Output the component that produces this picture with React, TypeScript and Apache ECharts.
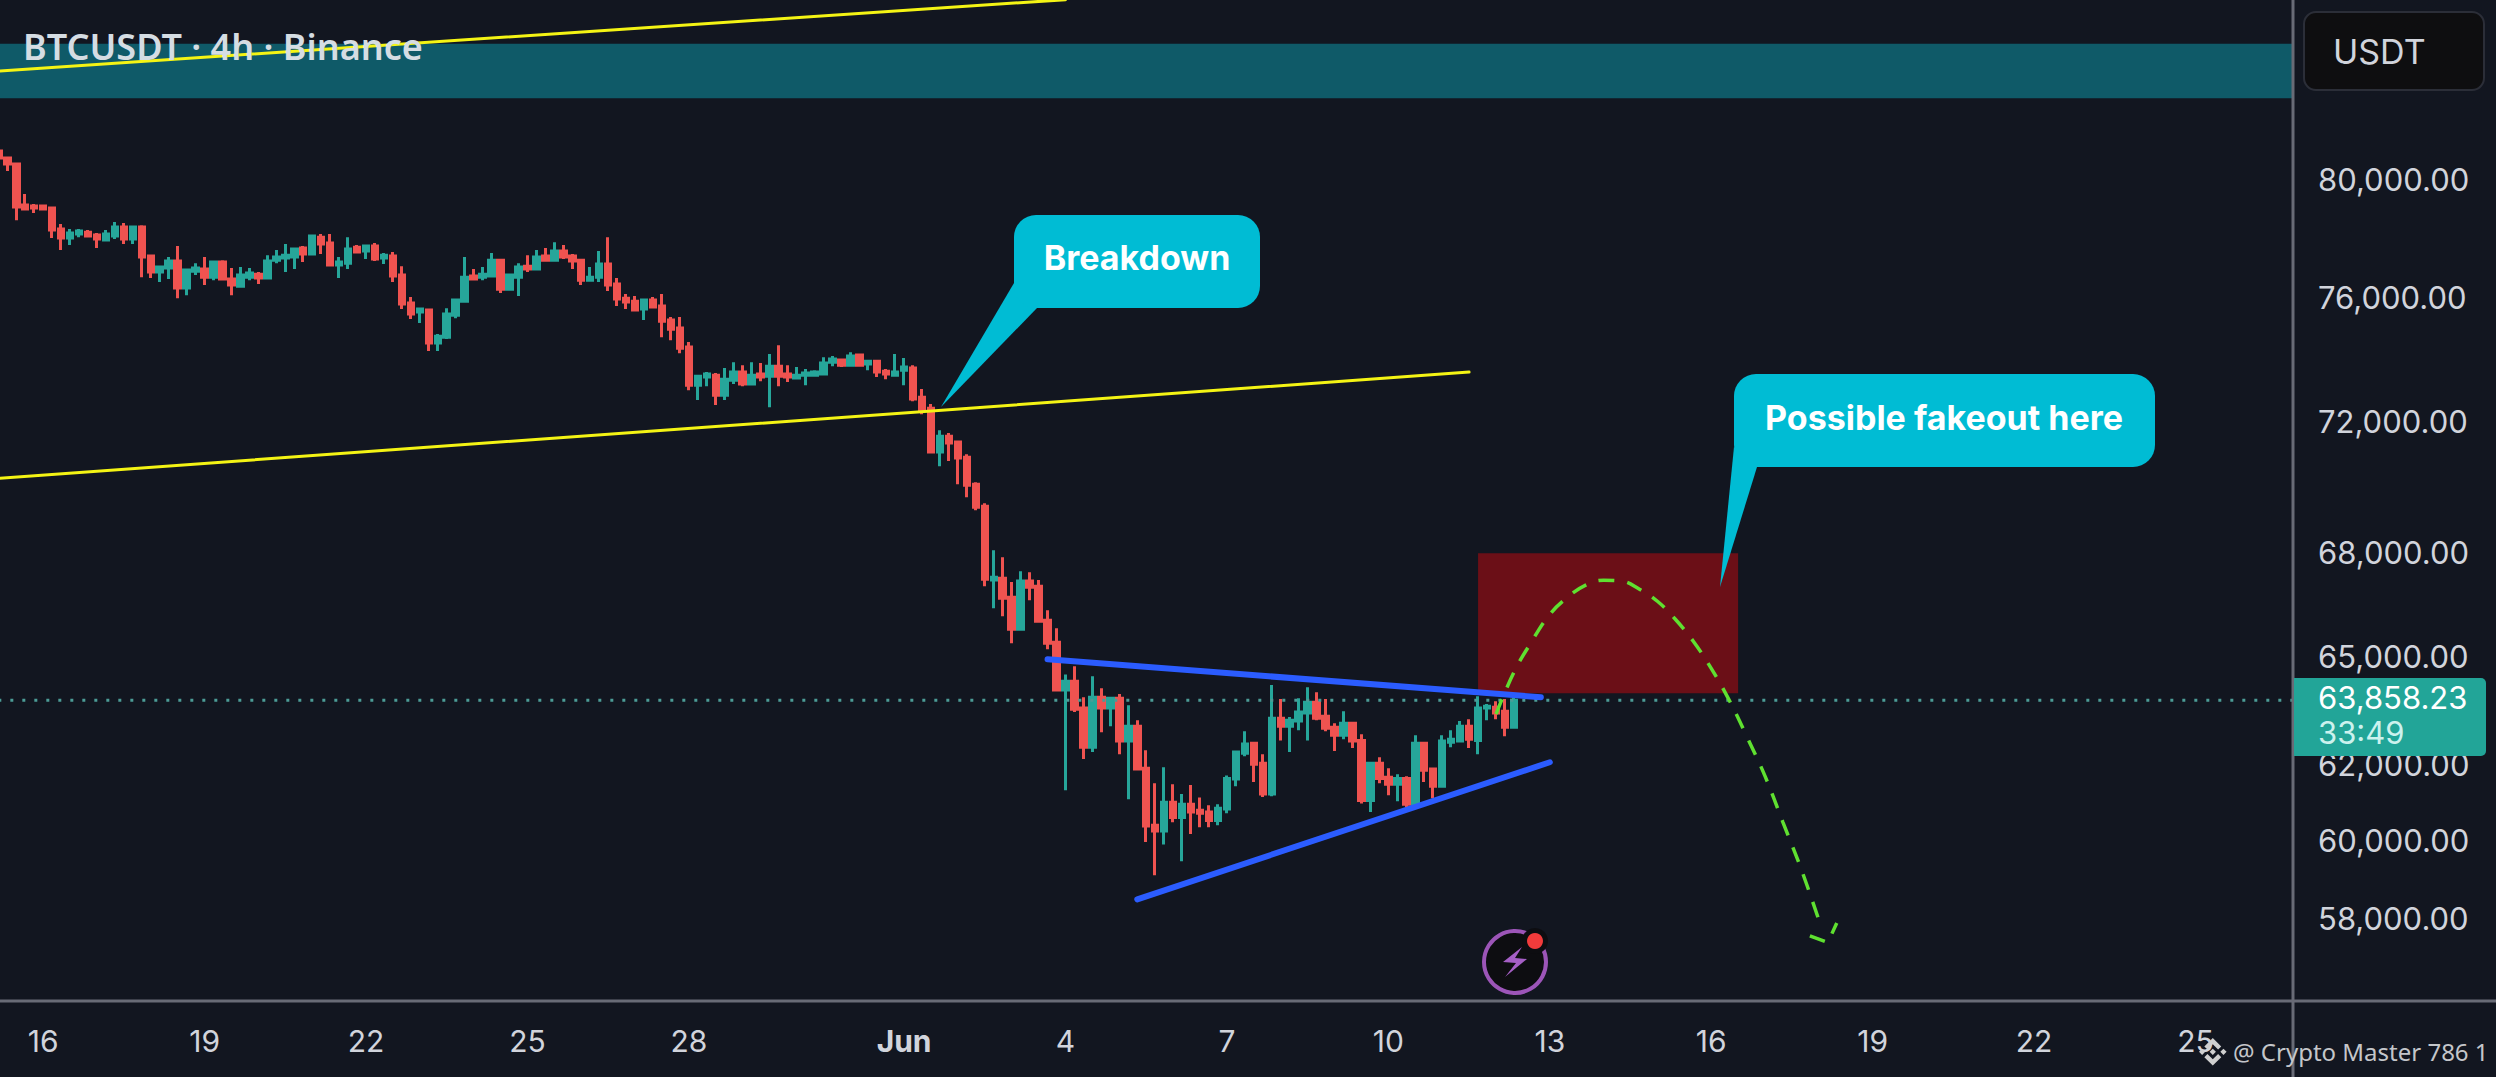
import React, { useEffect, useRef } from "react";
import * as echarts from "echarts";

const BG = "#121620";
const UP = "#26a69a";
const DOWN = "#ef5350";
const AXIS_TEXT = "#d1d4dc";
const DIVIDER = "#686b76";
const CYAN = "#00bcd4";
const FONT = "Inter";

const axisTopPrice = 86633;
const axisBottomPrice = 56040;
const priceTicks = [80000, 76000, 72000, 68000, 65000, 62000, 60000, 58000];
const lastPrice = 63858.23;

const slotCount = 257;
const xTickSlots = [5, 23, 41, 59, 77, 101, 119, 137, 155, 173, 191, 209, 227, 245];
const xTickLabels = ["16", "19", "22", "25", "28", "Jun", "4", "7", "10", "13", "16", "19", "22", "25"];

// open, close, low, high
const candleRows = [
  [81120,80870,80830,81120],[80870,80660,80410,80870],[80660,79160,78710,80690],[79230,79090,79090,79610],
  [79200,79130,78960,79270],[79200,79090,79060,79230],[79130,78370,78100,79160],[78410,78100,77690,78580],
  [78100,78270,77860,78410],[78240,78340,78130,78410],[78300,78170,78170,78370],[78200,78070,77760,78270],
  [78030,78240,78030,78370],[78170,78480,78070,78650],[78480,78070,77900,78610],[78070,78480,77900,78510],
  [78480,77460,76780,78540],[77490,76950,76750,77520],[76950,77120,76620,77120],[77090,77320,76720,77460],
  [77320,76420,76080,77830],[76420,77020,76180,77050],[76980,77090,76850,77250],[77050,76780,76520,77460],
  [76780,77290,76680,77320],[77290,76720,76680,77350],[76720,76520,76180,77090],[76480,76850,76450,77120],
  [76780,76920,76680,77090],[76880,76750,76550,76950],[76750,77320,76750,77520],[77350,77460,77250,77690],
  [77420,77520,76950,77900],[77460,77730,77050,77760],[77760,77560,77290,77830],[77560,78170,77560,78200],
  [78130,77900,77560,78240],[77930,77190,77190,78240],[77190,77290,76750,77460],[77250,77730,77050,78130],
  [77790,77630,77590,77860],[77660,77830,77390,77860],[77830,77390,77320,77930],[77420,77520,77220,77590],
  [77490,76820,76620,77630],[76850,75890,75720,77150],[75920,75560,75390,76120],[75620,75720,75260,75720],
  [75690,74610,74350,75690],[74610,74830,74350,74900],[74800,75560,74740,75750],[75520,76020,75420,76050],
  [75980,76780,75980,77460],[76820,76720,76680,77050],[76780,76880,76680,77120],[76820,77350,76780,77590],
  [77350,76380,76250,77350],[76380,76850,76380,76850],[76780,77120,76150,77250],[77150,77050,76950,77520],
  [77050,77460,77050,77690],[77490,77350,77320,77760],[77350,77660,77320,77960],[77660,77460,77390,77860],
  [77490,77320,77050,77560],[77350,76680,76520,77390],[76680,76780,76650,77120],[76780,77220,76620,77660],
  [77220,76520,76320,78130],[76550,76050,75820,76750],[76080,75950,75720,76220],[75980,75690,75650,76150],
  [75720,76020,75360,76020],[76020,75790,75750,76120],[75820,75320,74800,76220],[75360,75060,74700,75460],
  [75100,74440,74280,75460],[74480,73250,73090,74640],[73250,73540,72780,73540],[73510,73610,73220,73670],
  [73570,72930,72620,73640],[72930,73440,72780,73800],[73410,73670,73290,73990],[73670,73290,73220,73890],
  [73290,73570,73250,73990],[73610,73510,73380,73960],[73540,73860,72550,74250],[73860,73540,73220,74540],
  [73610,73510,73350,73890],[73480,73570,73440,73830],[73570,73640,73250,73770],[73570,73670,73540,73730],
  [73610,73960,73610,74150],[73990,74090,73860,74190],[74060,73890,73830,74090],[73890,74190,73890,74310],
  [74220,73890,73860,74250],[73930,74020,73730,74060],[74020,73670,73510,74060],[73700,73610,73440,73770],
  [73570,73670,73540,74250],[73730,73830,73250,74120],[73800,72810,72740,73890],[72870,72460,72330,73130],
  [72520,71150,71150,72650],[71150,71640,70710,71830],[71640,71430,70870,71740],[71460,70960,70160,71460],
  [70990,70130,69760,71080],[70160,69460,69370,70220],[69490,67310,67110,69580],[67290,67370,66470,68170],
  [67340,66760,66240,67960],[66790,65860,65460,67230],[65860,67260,65860,67550],[67260,67080,66700,67520],
  [67110,66090,66090,67290],[66120,65460,65290,66410],[65490,64140,64140,65890],[64140,64390,61400,64580],
  [64390,63610,63530,64810],[63640,62560,62240,63940],[62560,63940,62430,64530],[63940,63640,62970,64190],
  [63640,63910,63140,63910],[63910,62730,62370,64030],[62730,63140,61160,63720],[63140,61970,61970,63300],
  [61990,60450,60030,62480],[60470,60320,59170,61590],[60320,61080,59970,62020],[61080,60680,60550,61560],
  [60680,61030,59530,61300],[61030,60820,60240,61540],[60870,60790,60420,61210],[60820,60600,60420,61000],
  [60600,60920,60470,61030],[60900,61720,60790,61800],[61700,62430,61510,62450],[62400,62650,62320,63000],
  [62670,62100,61620,62670],[62130,61300,61220,62370],[61300,63360,61240,64280],[63360,63140,62750,63890],
  [63140,63300,62430,63390],[63280,63530,63030,63910],[63500,63800,62750,64220],[63800,63360,63300,64080],
  [63410,63080,63000,63890],[63110,62890,62460,63220],[62890,63220,62780,63550],[63220,62730,62540,63250],
  [62750,61130,61050,62920],[61130,62130,60820,62130],[62130,61720,61590,62290],[61750,61560,61270,61990],
  [61560,61720,61110,61830],[61720,61030,60950,61780],[61030,62670,61000,62890],[62670,61940,61620,62670],
  [61970,61510,61190,61990],[61510,62730,61510,62890],[62700,62780,62560,63030],[62730,63140,62730,63280],
  [63140,62780,62540,63330],[62750,63640,62370,63970],[63640,63690,63300,63750],[63660,63500,63330,63830],
  [63550,63110,62860,63890],[63110,63858.23,63110,63940],
];

const zoneBandPrices = [85000, 83000];
const resistanceZoneSlots = [165, 194];
const resistanceZonePrices = [68080, 64050];

const upperYellowSlots = [0, 119];
const upperYellowPrices = [83993, 86646];
const lowerYellowSlots = [0, 164];
const lowerYellowPrices = [70340, 73670];
const wedgeTopSlots = [117, 172];
const wedgeTopPrices = [65007, 63941];
const wedgeBottomSlots = [127, 173];
const wedgeBottomPrices = [58553, 62155];
const priceLineSlots = [0, 256];

const pathSlots = [167,169,171,173,175,177,179,181,183,185,187,189,191,193,195,197,199,201,203];
const pathPrices = [63470,64640,65520,66290,66790,67140,67285,67260,67020,66670,66150,65520,64750,63860,62840,61780,60550,59350,58030];
const arrowSlots = [202, 204, 205];
const arrowPrices = [57630, 57460, 57950];

const binancePath =
  "M16.624 13.9202l2.7175 2.7154-7.353 7.353-7.353-7.352 2.7175-2.7164 4.6355 4.6595 4.6356-4.6595zm4.6366-4.6366L24 12l-2.7154 2.7164L18.5682 12l2.6924-2.7164zm-9.272.001l2.7163 2.6914-2.7164 2.7174v-.001L9.2721 12l2.7164-2.7154zm-9.2722-.001L5.4088 12l-2.6914 2.6924L0 12l2.7164-2.7164zM11.9885.0115l7.353 7.329-2.7174 2.7154-4.6356-4.6356-4.6355 4.6595-2.7174-2.7154 7.353-7.353z";
echarts.graphic.registerShape("binanceLogo", (echarts.graphic as any).extendPath(binancePath, {}));

const ln = (p: number) => Math.log(p);
const categories: string[] = [];
for (let j = 0; j < slotCount; j++) {
  const d = new Date(Date.UTC(2024, 4, 15, 4 + 4 * j));
  categories.push(d.toISOString().slice(5, 13));
}
const pairLine = (slots: number[], prices: number[]) => slots.map((s, k) => [s, ln(prices[k])]);
const trend = (name: string, slots: number[], prices: number[], color: string, width: number, z: number) => ({
  type: "line", name, data: pairLine(slots, prices), showSymbol: false, symbol: "none", z, silent: true,
  lineStyle: { color, width, cap: "round" },
});

const callout = (
  rect: number[], tail: number[][], text: string, cx: number, cy: number,
) => [
  { type: "polygon", z: 50, silent: true, shape: { points: tail }, style: { fill: CYAN } },
  { type: "rect", z: 51, silent: true, shape: { x: rect[0], y: rect[1], width: rect[2], height: rect[3], r: 22 }, style: { fill: CYAN } },
  { type: "text", z: 52, silent: true, x: cx, y: cy, style: { text, fill: "#ffffff", font: `700 34px ${FONT}`, align: "center", verticalAlign: "middle" } },
];

function buildOption() {
  return {
    animation: false,
    backgroundColor: BG,
    tooltip: { show: false },
    title: {
      text: "BTCUSDT · 4h · Binance", left: 23, top: 28, padding: 0, z: 40,
      textStyle: { color: "#d5dde3", fontFamily: "Noto Sans", fontWeight: 600, fontSize: 36 },
    },
    grid: { left: -6.17, top: 0, width: 2304.8, height: 1000, containLabel: false, outerBoundsMode: "none" },
    xAxis: {
      type: "category", data: categories, boundaryGap: true,
      axisLine: { show: false }, axisTick: { show: false }, splitLine: { show: false },
      axisLabel: {
        show: true, margin: 26, color: AXIS_TEXT, fontFamily: FONT, fontSize: 30, hideOverlap: false,
        interval: (index: number) => xTickSlots.includes(index),
        formatter: (_: string, index: number) => {
          const t = xTickLabels[xTickSlots.indexOf(index)] ?? "";
          return t === "Jun" ? `{b|${t}}` : t;
        },
        rich: { b: { fontFamily: FONT, fontWeight: 700, fontSize: 30, color: AXIS_TEXT } },
      },
    },
    yAxis: {
      type: "value", position: "right", min: ln(axisBottomPrice), max: ln(axisTopPrice), scale: true,
      axisLine: { show: false }, axisTick: { show: false }, splitLine: { show: false },
      axisLabel: {
        show: true, margin: 19.4, color: AXIS_TEXT, fontFamily: FONT, fontSize: 31,
        verticalAlign: "bottom", lineHeight: 6,
        customValues: priceTicks.map(ln),
        formatter: (v: number) => Math.round(Math.exp(v)).toLocaleString("en-US", { minimumFractionDigits: 2 }),
      },
    },
    series: [
      {
        type: "line", name: "zones", data: [], z: 1, silent: true,
        markArea: {
          silent: true, label: { show: false },
          data: [
            [
              { yAxis: ln(zoneBandPrices[0]), itemStyle: { color: "#0f5a68", opacity: 1 } },
              { yAxis: ln(zoneBandPrices[1]) },
            ],
            [
              { xAxis: categories[resistanceZoneSlots[0]], yAxis: ln(resistanceZonePrices[0]), itemStyle: { color: "#6b0f17", opacity: 1 } },
              { xAxis: categories[resistanceZoneSlots[1]], yAxis: ln(resistanceZonePrices[1]) },
            ],
          ],
        },
      },
      {
        type: "candlestick", name: "BTCUSDT", z: 2, barWidth: 6, silent: true,
        data: candleRows.map((r) => r.map(ln)),
        itemStyle: { color: UP, color0: DOWN, borderColor: UP, borderColor0: DOWN, borderWidth: 3 },
      },
      {
        type: "line", name: "last price", z: 3, silent: true, showSymbol: false, symbol: "none",
        data: pairLine(priceLineSlots, [lastPrice, lastPrice]),
        lineStyle: { color: "#4c9c96", width: 3, type: [3, 9] },
      },
      trend("upper yellow", upperYellowSlots, upperYellowPrices, "#f4f414", 3, 3),
      trend("lower yellow", lowerYellowSlots, lowerYellowPrices, "#f4f414", 3, 3),
      trend("wedge top", wedgeTopSlots, wedgeTopPrices, "#2b5cff", 6, 4),
      trend("wedge bottom", wedgeBottomSlots, wedgeBottomPrices, "#2b5cff", 6, 4),
      {
        type: "line", name: "path", data: pairLine(pathSlots, pathPrices), smooth: 0.4, showSymbol: false, symbol: "none", z: 5, silent: true,
        lineStyle: { color: "#5fe030", width: 3.5, type: [16, 13] },
      },
      {
        type: "line", name: "arrow", data: pairLine(arrowSlots, arrowPrices), showSymbol: false, symbol: "none", z: 5, silent: true,
        lineStyle: { color: "#5fe030", width: 3.5, type: [16, 13] },
      },
    ],
    graphic: [
      { type: "rect", z: 29, silent: true, shape: { x: 2294, y: 0, width: 8, height: 1001 }, style: { fill: BG } },
      { type: "line", z: 30, silent: true, shape: { x1: 0, y1: 1001, x2: 2496, y2: 1001 }, style: { stroke: DIVIDER, lineWidth: 3 } },
      { type: "line", z: 30, silent: true, shape: { x1: 2293, y1: 0, x2: 2293, y2: 1077 }, style: { stroke: DIVIDER, lineWidth: 3 } },
      { type: "rect", z: 31, silent: true, shape: { x: 2304, y: 12, width: 180, height: 78, r: 12 }, style: { fill: "#0e0e10", stroke: "#2b2e38", lineWidth: 2 } },
      { type: "text", z: 32, silent: true, x: 2333, y: 51, style: { text: "USDT", fill: AXIS_TEXT, font: `400 34px ${FONT}`, verticalAlign: "middle" } },
      { type: "rect", z: 31, silent: true, shape: { x: 2294, y: 678, width: 192, height: 78, r: [0, 5, 5, 0] }, style: { fill: "#22a598" } },
      { type: "text", z: 32, silent: true, x: 2318, y: 697, style: { text: "63,858.23", fill: "#ffffff", font: `400 31px ${FONT}`, verticalAlign: "middle" } },
      { type: "text", z: 32, silent: true, x: 2318, y: 732, style: { text: "33:49", fill: "#ccf2ee", font: `400 31px ${FONT}`, verticalAlign: "middle" } },
      ...callout([1014, 215, 246, 93], [[1014, 283], [941, 407], [1037, 308]], "Breakdown", 1137, 257),
      ...callout([1734, 374, 421, 93], [[1734, 447], [1720, 587], [1757, 467]], "Possible fakeout here", 1944, 417),
      { type: "circle", z: 33, silent: true, shape: { cx: 1515, cy: 962, r: 31 }, style: { fill: "#0d0d11", stroke: "#9c55b8", lineWidth: 4 } },
      { type: "circle", z: 34, silent: true, shape: { cx: 1535, cy: 941, r: 13 }, style: { fill: "#0d0d11" } },
      { type: "circle", z: 35, silent: true, shape: { cx: 1535, cy: 941, r: 8 }, style: { fill: "#f23b3b" } },
      { type: "polygon", z: 35, silent: true, shape: { points: [[1522, 947], [1503, 962], [1516, 963], [1505, 977], [1527, 959], [1515, 958]] }, style: { fill: "#a55fc6" } },
      { type: "binanceLogo", z: 36, silent: true, x: 2199, y: 1038, scaleX: 1.15, scaleY: 1.15, style: { fill: "#cfcfcf" } },
      { type: "text", z: 36, silent: true, x: 2233, y: 1051, style: { text: "@ Crypto Master 786 1", fill: "#c4c6ca", font: `400 24px "Noto Sans"`, verticalAlign: "middle" } },
    ],
  };
}

export default function App() {
  const ref = useRef<HTMLDivElement>(null);
  useEffect(() => {
    document.body.style.margin = "0";
    document.body.style.background = BG;
    const chart = echarts.init(ref.current!, undefined, { renderer: "svg" });
    chart.setOption(buildOption() as any);
    return () => chart.dispose();
  }, []);
  return <div ref={ref} style={{ width: 2496, height: 1077 }} />;
}
